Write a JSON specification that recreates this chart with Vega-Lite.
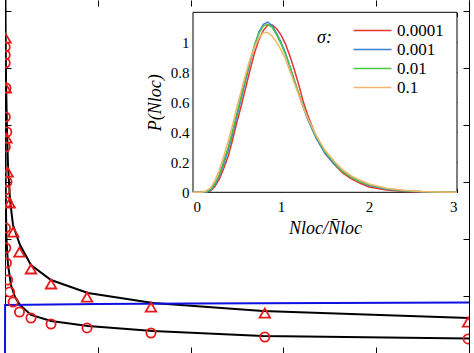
{
  "$schema": "https://vega.github.io/schema/vega-lite/v6.json",
  "width": 464,
  "height": 353,
  "autosize": {"type": "none"},
  "padding": {"left": 5, "right": 5, "top": 0, "bottom": 0},
  "background": "white",
  "config": {"view": {"stroke": null}, "font": "Liberation Serif", "axis": {"grid": false}},
  "datasets": {
    "curves": [
      {"c": "upper", "u": 0.0032, "v": 6.3}, {"c": "upper", "u": 0.0054, "v": 5.579}, {"c": "upper", "u": 0.0108, "v": 4.789},
      {"c": "upper", "u": 0.0216, "v": 3.912}, {"c": "upper", "u": 0.0323, "v": 3.298}, {"c": "upper", "u": 0.0539, "v": 2.684},
      {"c": "upper", "u": 0.0862, "v": 2.246}, {"c": "upper", "u": 0.162, "v": 1.895}, {"c": "upper", "u": 0.28, "v": 1.544},
      {"c": "upper", "u": 0.496, "v": 1.281}, {"c": "upper", "u": 0.894, "v": 1.053}, {"c": "upper", "u": 1.595, "v": 0.877},
      {"c": "upper", "u": 2.78, "v": 0.737}, {"c": "upper", "u": 4.04, "v": 0.667}, {"c": "upper", "u": 5.0, "v": 0.614},
      {"c": "lower", "u": 0.0022, "v": 6.3}, {"c": "lower", "u": 0.0032, "v": 4.789}, {"c": "lower", "u": 0.0054, "v": 3.561},
      {"c": "lower", "u": 0.0086, "v": 2.684}, {"c": "lower", "u": 0.0162, "v": 1.982}, {"c": "lower", "u": 0.0323, "v": 1.544},
      {"c": "lower", "u": 0.0647, "v": 1.193}, {"c": "lower", "u": 0.108, "v": 0.982}, {"c": "lower", "u": 0.162, "v": 0.842},
      {"c": "lower", "u": 0.28, "v": 0.667}, {"c": "lower", "u": 0.496, "v": 0.561}, {"c": "lower", "u": 0.894, "v": 0.474},
      {"c": "lower", "u": 1.595, "v": 0.386}, {"c": "lower", "u": 2.78, "v": 0.298}, {"c": "lower", "u": 5.0, "v": 0.254}
    ],
    "blue": [
      {"u": 0.0, "v": 0.0}, {"u": 0.001, "v": 0.842}, {"u": 1.0, "v": 0.858}, {"u": 2.0, "v": 0.868}, {"u": 5.0, "v": 0.886}
    ],
    "markers": [
      {"k": "tri", "u": 4.99, "v": 0.544}, {"k": "tri", "u": 2.8, "v": 0.702}, {"k": "tri", "u": 1.573, "v": 0.807},
      {"k": "tri", "u": 0.884, "v": 0.982}, {"k": "tri", "u": 0.496, "v": 1.211}, {"k": "tri", "u": 0.28, "v": 1.474},
      {"k": "tri", "u": 0.156, "v": 1.772}, {"k": "tri", "u": 0.088, "v": 2.123}, {"k": "tri", "u": 0.05, "v": 2.632},
      {"k": "tri", "u": 0.028, "v": 3.175}, {"k": "tri", "u": 0.0156, "v": 3.772}, {"k": "tri", "u": 0.0086, "v": 4.649},
      {"k": "tri", "u": 0.005, "v": 5.526},
      {"k": "circ", "u": 4.99, "v": 0.246}, {"k": "circ", "u": 2.8, "v": 0.281}, {"k": "circ", "u": 1.573, "v": 0.351},
      {"k": "circ", "u": 0.884, "v": 0.439}, {"k": "circ", "u": 0.496, "v": 0.509}, {"k": "circ", "u": 0.28, "v": 0.614},
      {"k": "circ", "u": 0.156, "v": 0.719}, {"k": "circ", "u": 0.088, "v": 0.895}, {"k": "circ", "u": 0.05, "v": 1.07},
      {"k": "circ", "u": 0.028, "v": 1.281}, {"k": "circ", "u": 0.0156, "v": 1.579}, {"k": "circ", "u": 0.0086, "v": 1.842},
      {"k": "circ", "u": 0.005, "v": 2.193}, {"k": "circ", "u": 0.0216, "v": 2.649}, {"k": "circ", "u": 0.0022, "v": 2.86},
      {"k": "circ", "u": 0.0216, "v": 3.0}, {"k": "circ", "u": 0.0032, "v": 3.614}, {"k": "circ", "u": 0.0194, "v": 3.877},
      {"k": "circ", "u": 0.0032, "v": 4.14}, {"k": "circ", "u": 0.0108, "v": 4.649}, {"k": "circ", "u": 0.0022, "v": 5.088},
      {"k": "circ", "u": 0.0022, "v": 5.228}, {"k": "circ", "u": 0.0022, "v": 5.368}
    ],
    "frame": [{"x0": 0, "x1": 3, "y0": 0, "y1": 1.2}],
    "inset": [
      {"s":"0.0001","x":0,"p":0},{"s":"0.0001","x":0.1,"p":0},{"s":"0.0001","x":0.15,"p":0},{"s":"0.0001","x":0.2,"p":0.01},
      {"s":"0.0001","x":0.25,"p":0.04},{"s":"0.0001","x":0.3,"p":0.09},{"s":"0.0001","x":0.35,"p":0.16},{"s":"0.0001","x":0.4,"p":0.24},
      {"s":"0.0001","x":0.45,"p":0.35},{"s":"0.0001","x":0.5,"p":0.47},{"s":"0.0001","x":0.55,"p":0.58},{"s":"0.0001","x":0.6,"p":0.7},
      {"s":"0.0001","x":0.65,"p":0.82},{"s":"0.0001","x":0.7,"p":0.93},{"s":"0.0001","x":0.75,"p":1.02},{"s":"0.0001","x":0.8,"p":1.08},
      {"s":"0.0001","x":0.85,"p":1.115},{"s":"0.0001","x":0.9,"p":1.115},{"s":"0.0001","x":0.95,"p":1.09},{"s":"0.0001","x":1.0,"p":1.05},
      {"s":"0.0001","x":1.05,"p":0.99},{"s":"0.0001","x":1.1,"p":0.91},{"s":"0.0001","x":1.15,"p":0.82},{"s":"0.0001","x":1.2,"p":0.72},
      {"s":"0.0001","x":1.25,"p":0.61},{"s":"0.0001","x":1.3,"p":0.52},{"s":"0.0001","x":1.4,"p":0.37},{"s":"0.0001","x":1.5,"p":0.26},
      {"s":"0.0001","x":1.6,"p":0.19},{"s":"0.0001","x":1.7,"p":0.13},{"s":"0.0001","x":1.8,"p":0.09},{"s":"0.0001","x":1.9,"p":0.06},
      {"s":"0.0001","x":2.0,"p":0.035},{"s":"0.0001","x":2.2,"p":0.015},{"s":"0.0001","x":2.4,"p":0.006},{"s":"0.0001","x":2.6,"p":0.002},
      {"s":"0.0001","x":2.8,"p":0},{"s":"0.0001","x":3.0,"p":0},
      {"s":"0.001","x":0,"p":0},{"s":"0.001","x":0.1,"p":0},{"s":"0.001","x":0.15,"p":0},{"s":"0.001","x":0.2,"p":0.015},
      {"s":"0.001","x":0.25,"p":0.05},{"s":"0.001","x":0.3,"p":0.11},{"s":"0.001","x":0.35,"p":0.19},{"s":"0.001","x":0.4,"p":0.28},
      {"s":"0.001","x":0.45,"p":0.39},{"s":"0.001","x":0.5,"p":0.51},{"s":"0.001","x":0.55,"p":0.63},{"s":"0.001","x":0.6,"p":0.75},
      {"s":"0.001","x":0.65,"p":0.87},{"s":"0.001","x":0.7,"p":0.98},{"s":"0.001","x":0.75,"p":1.07},{"s":"0.001","x":0.8,"p":1.12},
      {"s":"0.001","x":0.85,"p":1.135},{"s":"0.001","x":0.9,"p":1.11},{"s":"0.001","x":0.95,"p":1.06},{"s":"0.001","x":1.0,"p":1.0},
      {"s":"0.001","x":1.05,"p":0.93},{"s":"0.001","x":1.1,"p":0.84},{"s":"0.001","x":1.15,"p":0.75},{"s":"0.001","x":1.2,"p":0.66},
      {"s":"0.001","x":1.25,"p":0.57},{"s":"0.001","x":1.3,"p":0.49},{"s":"0.001","x":1.4,"p":0.36},{"s":"0.001","x":1.5,"p":0.26},
      {"s":"0.001","x":1.6,"p":0.19},{"s":"0.001","x":1.7,"p":0.14},{"s":"0.001","x":1.8,"p":0.1},{"s":"0.001","x":1.9,"p":0.07},
      {"s":"0.001","x":2.0,"p":0.045},{"s":"0.001","x":2.2,"p":0.02},{"s":"0.001","x":2.4,"p":0.009},{"s":"0.001","x":2.6,"p":0.004},
      {"s":"0.001","x":2.8,"p":0.001},{"s":"0.001","x":3.0,"p":0},
      {"s":"0.01","x":0,"p":0},{"s":"0.01","x":0.1,"p":0},{"s":"0.01","x":0.15,"p":0.005},{"s":"0.01","x":0.2,"p":0.02},
      {"s":"0.01","x":0.25,"p":0.06},{"s":"0.01","x":0.3,"p":0.12},{"s":"0.01","x":0.35,"p":0.21},{"s":"0.01","x":0.4,"p":0.3},
      {"s":"0.01","x":0.45,"p":0.41},{"s":"0.01","x":0.5,"p":0.53},{"s":"0.01","x":0.55,"p":0.65},{"s":"0.01","x":0.6,"p":0.77},
      {"s":"0.01","x":0.65,"p":0.88},{"s":"0.01","x":0.7,"p":0.98},{"s":"0.01","x":0.75,"p":1.06},{"s":"0.01","x":0.8,"p":1.11},
      {"s":"0.01","x":0.85,"p":1.12},{"s":"0.01","x":0.9,"p":1.1},{"s":"0.01","x":0.95,"p":1.05},{"s":"0.01","x":1.0,"p":0.99},
      {"s":"0.01","x":1.05,"p":0.92},{"s":"0.01","x":1.1,"p":0.84},{"s":"0.01","x":1.15,"p":0.75},{"s":"0.01","x":1.2,"p":0.66},
      {"s":"0.01","x":1.25,"p":0.58},{"s":"0.01","x":1.3,"p":0.5},{"s":"0.01","x":1.4,"p":0.37},{"s":"0.01","x":1.5,"p":0.27},
      {"s":"0.01","x":1.6,"p":0.2},{"s":"0.01","x":1.7,"p":0.14},{"s":"0.01","x":1.8,"p":0.1},{"s":"0.01","x":1.9,"p":0.07},
      {"s":"0.01","x":2.0,"p":0.05},{"s":"0.01","x":2.2,"p":0.024},{"s":"0.01","x":2.4,"p":0.011},{"s":"0.01","x":2.6,"p":0.005},
      {"s":"0.01","x":2.8,"p":0.002},{"s":"0.01","x":3.0,"p":0},
      {"s":"0.1","x":0,"p":0},{"s":"0.1","x":0.1,"p":0},{"s":"0.1","x":0.15,"p":0.01},{"s":"0.1","x":0.2,"p":0.03},
      {"s":"0.1","x":0.25,"p":0.08},{"s":"0.1","x":0.3,"p":0.15},{"s":"0.1","x":0.35,"p":0.24},{"s":"0.1","x":0.4,"p":0.34},
      {"s":"0.1","x":0.45,"p":0.45},{"s":"0.1","x":0.5,"p":0.57},{"s":"0.1","x":0.55,"p":0.68},{"s":"0.1","x":0.6,"p":0.79},
      {"s":"0.1","x":0.65,"p":0.89},{"s":"0.1","x":0.7,"p":0.97},{"s":"0.1","x":0.75,"p":1.03},{"s":"0.1","x":0.8,"p":1.065},
      {"s":"0.1","x":0.85,"p":1.065},{"s":"0.1","x":0.9,"p":1.04},{"s":"0.1","x":0.95,"p":1.0},{"s":"0.1","x":1.0,"p":0.95},
      {"s":"0.1","x":1.05,"p":0.89},{"s":"0.1","x":1.1,"p":0.81},{"s":"0.1","x":1.15,"p":0.73},{"s":"0.1","x":1.2,"p":0.65},
      {"s":"0.1","x":1.25,"p":0.57},{"s":"0.1","x":1.3,"p":0.5},{"s":"0.1","x":1.4,"p":0.38},{"s":"0.1","x":1.5,"p":0.28},
      {"s":"0.1","x":1.6,"p":0.21},{"s":"0.1","x":1.7,"p":0.15},{"s":"0.1","x":1.8,"p":0.11},{"s":"0.1","x":1.9,"p":0.08},
      {"s":"0.1","x":2.0,"p":0.055},{"s":"0.1","x":2.2,"p":0.027},{"s":"0.1","x":2.4,"p":0.013},{"s":"0.1","x":2.6,"p":0.006},
      {"s":"0.1","x":2.8,"p":0.002},{"s":"0.1","x":3.0,"p":0}
    ]
  },
  "layer": [
    {
      "data": {"name": "curves"},
      "mark": {"type": "line", "color": "black", "strokeWidth": 2, "clip": true},
      "encoding": {
        "x": {"field": "u", "type": "quantitative", "scale": {"domain": [0, 5]},
              "axis": {"orient": "bottom", "values": [0, 1, 2, 3, 4, 5], "labels": false, "domain": false, "tickSize": -6, "tickColor": "black", "title": null}},
        "y": {"field": "v", "type": "quantitative", "scale": {"domain": [0, 6.193]},
              "axis": {"orient": "left", "values": [0, 1, 2, 3, 4, 5, 6], "labels": false, "domain": true, "domainColor": "black", "tickSize": -6, "tickColor": "black", "title": null}},
        "detail": {"field": "c"}
      }
    },
    {
      "data": {"name": "blue"},
      "mark": {"type": "line", "color": "#1010e0", "strokeWidth": 2, "clip": false},
      "encoding": {
        "x": {"field": "u", "type": "quantitative", "scale": {"domain": [0, 5]}, "axis": null},
        "y": {"field": "v", "type": "quantitative", "scale": {"domain": [0, 6.193]}, "axis": null}
      }
    },
    {
      "data": {"name": "markers"},
      "mark": {"type": "point", "filled": false, "strokeWidth": 1.8, "color": "#e8191b", "opacity": 1, "clip": true},
      "encoding": {
        "x": {"field": "u", "type": "quantitative", "scale": {"domain": [0, 5]},
              "axis": {"orient": "top", "values": [0, 1, 2, 3, 4, 5], "labels": false, "domain": false, "tickSize": -6, "tickColor": "black", "title": null}},
        "y": {"field": "v", "type": "quantitative", "scale": {"domain": [0, 6.193]},
              "axis": {"orient": "right", "values": [0, 1, 2, 3, 4, 5, 6], "labels": false, "domain": true, "domainColor": "black", "tickSize": -6, "tickColor": "black", "title": null}},
        "shape": {"field": "k", "type": "nominal", "scale": {"domain": ["tri", "circ"], "range": ["triangle-up", "circle"]}, "legend": null},
        "size": {"field": "k", "type": "nominal", "scale": {"domain": ["tri", "circ"], "range": [110, 85]}, "legend": null}
      }
    },
    {
      "data": {"name": "frame"},
      "mark": {"type": "rect", "fill": "white", "stroke": "black", "strokeWidth": 1},
      "encoding": {
        "x": {"field": "x0", "type": "quantitative", "scale": {"domain": [0, 3], "range": [188, 452]},
              "axis": {"orient": "bottom", "offset": -160.7, "values": [0, 1, 2, 3], "domain": false, "tickSize": -4, "tickColor": "black",
                       "labelFontSize": 15, "labelColor": "black", "labelFont": "Liberation Serif", "labelPadding": 11,
                       "title": "Nloc/N̄loc", "titleFont": "Liberation Serif", "titleFontSize": 18, "titleFontWeight": "normal", "titleFontStyle": "italic", "titleColor": "black", "titlePadding": 5}},
        "x2": {"field": "x1"},
        "y": {"field": "y0", "type": "quantitative", "scale": {"domain": [0, 1.2], "range": [192.3, 12.3]},
              "axis": {"orient": "left", "offset": -188, "values": [0, 0.2, 0.4, 0.6, 0.8, 1], "format": "~g", "domain": false, "tickSize": -4, "tickColor": "black",
                       "labelFontSize": 15, "labelColor": "black", "labelFont": "Liberation Serif", "labelPadding": 8,
                       "title": "P(Nloc)", "titleFont": "Liberation Serif", "titleFontSize": 18, "titleFontWeight": "normal", "titleFontStyle": "italic", "titleColor": "black", "titlePadding": 6}},
        "y2": {"field": "y1"}
      }
    },
    {
      "data": {"name": "inset"},
      "mark": {"type": "line", "strokeWidth": 1.5},
      "encoding": {
        "x": {"field": "x", "type": "quantitative", "scale": {"domain": [0, 3], "range": [188, 452]},
              "axis": {"orient": "top", "offset": -12.3, "values": [0, 1, 2, 3], "labels": false, "domain": false, "tickSize": -4, "tickColor": "black", "title": null}},
        "y": {"field": "p", "type": "quantitative", "scale": {"domain": [0, 1.2], "range": [192.3, 12.3]},
              "axis": {"orient": "right", "offset": -12, "values": [0, 0.2, 0.4, 0.6, 0.8, 1], "labels": false, "domain": false, "tickSize": -4, "tickColor": "black", "title": null}},
        "color": {"field": "s", "type": "nominal",
                  "scale": {"domain": ["0.0001", "0.001", "0.01", "0.1"], "range": ["#e8352e", "#3d7fd6", "#45c945", "#f5b46e"]},
                  "legend": {"orient": "none", "legendX": 312, "legendY": 20, "title": "σ:", "titleOrient": "left", "titleAnchor": "start", "titleBaseline": "line-top", "titleLineHeight": 35, "titleFont": "Liberation Serif",
                             "titleFontSize": 18, "titleFontStyle": "italic", "titleFontWeight": "normal", "titleColor": "black", "titlePadding": 30,
                             "symbolType": "M-2,0H2", "symbolSize": 361, "symbolStrokeWidth": 1.5, "labelFont": "Liberation Serif", "labelFontSize": 17,
                             "labelColor": "black", "rowPadding": -1, "labelOffset": 14, "padding": 0}}
      }
    }
  ],
  "resolve": {"scale": {"x": "independent", "y": "independent", "color": "independent", "shape": "independent", "size": "independent"},
              "axis": {"x": "independent", "y": "independent"}}
}
